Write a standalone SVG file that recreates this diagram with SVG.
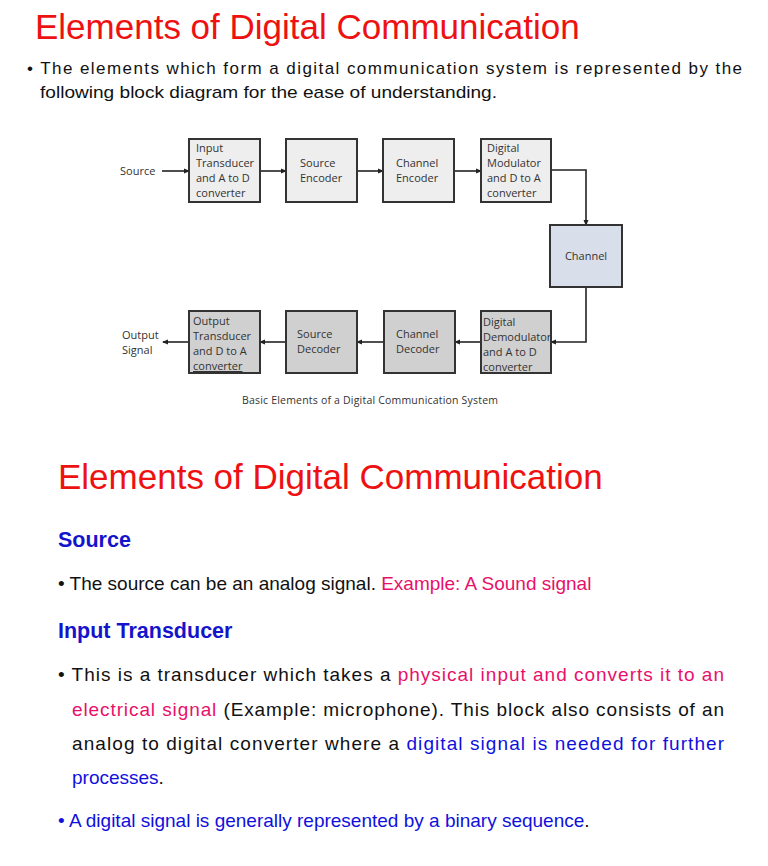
<svg xmlns="http://www.w3.org/2000/svg" width="768" height="866" viewBox="0 0 768 866">
<defs>
<marker id="ah" markerWidth="6" markerHeight="6" refX="5" refY="3" orient="auto" markerUnits="userSpaceOnUse"><path d="M0,0.5 L6,3 L0,5.5 z" fill="#222"/></marker>
<style>
.t{font-family:"Liberation Sans",Arial,sans-serif}
.b{font-family:"Open Sans","Liberation Sans",sans-serif;font-size:11px;fill:#333}
.top{fill:#eeeeee;stroke:#333;stroke-width:2}
.bot{fill:#d0d0d0;stroke:#333;stroke-width:2}
.ch{fill:#d9dfea;stroke:#333;stroke-width:2}
.c{fill:none;stroke:#222;stroke-width:1.6;marker-end:url(#ah)}
.h{font-size:35px;fill:#ee1111}
.p{font-size:17px;fill:#111}
.q{font-size:19px;fill:#111}
.r{fill:#e8106a}
.bl{fill:#1010dd}
.s{font-size:21.5px;font-weight:bold;fill:#1414cc}
</style>
</defs>
<rect width="768" height="866" fill="#fff"/>
<text class="t h" x="35" y="39">Elements of Digital Communication</text>
<text class="t p" x="27" y="74" textLength="715" lengthAdjust="spacing">• The elements which form a digital communication system is represented by the</text>
<text class="t p" x="40" y="98" textLength="457" lengthAdjust="spacingAndGlyphs">following block diagram for the ease of understanding.</text>

<g id="connectors">
<path class="c" d="M162,171 H189"/>
<path class="c" d="M260,171 H286"/>
<path class="c" d="M357,171 H383"/>
<path class="c" d="M454,171 H481"/>
<path class="c" d="M551,170 H586 V225"/>
<path class="c" d="M586,287 V342 H551"/>
<path class="c" d="M481,342 H455"/>
<path class="c" d="M384,342 H357"/>
<path class="c" d="M286,342 H260"/>
<path class="c" d="M189,342 H163"/>
</g>
<text class="b" x="120" y="175">Source</text>
<text class="b" x="122" y="339">Output</text>
<text class="b" x="122" y="354">Signal</text>

<g id="n1"><rect class="top" x="189" y="139" width="71" height="63"/><text class="b" x="196" y="152">Input</text><text class="b" x="196" y="167">Transducer</text><text class="b" x="196" y="182">and A to D</text><text class="b" x="196" y="197">converter</text></g>
<g id="n2"><rect class="top" x="286" y="139" width="71" height="63"/><text class="b" x="300" y="167">Source</text><text class="b" x="300" y="182">Encoder</text></g>
<g id="n3"><rect class="top" x="383" y="139" width="71" height="63"/><text class="b" x="396" y="167">Channel</text><text class="b" x="396" y="182">Encoder</text></g>
<g id="n4"><rect class="top" x="481" y="139" width="70" height="63"/><text class="b" x="487" y="152">Digital</text><text class="b" x="487" y="167">Modulator</text><text class="b" x="487" y="182">and D to A</text><text class="b" x="487" y="197">converter</text></g>
<g id="n5"><rect class="ch" x="550" y="225" width="72" height="62"/><text class="b" x="586" y="260" text-anchor="middle">Channel</text></g>
<g id="n6"><rect class="bot" x="481" y="311" width="70" height="62"/><text class="b" x="483" y="326">Digital</text><text class="b" x="483" y="341">Demodulator</text><text class="b" x="483" y="356">and A to D</text><text class="b" x="483" y="371" text-decoration="underline">converter</text></g>
<g id="n7"><rect class="bot" x="384" y="311" width="71" height="62"/><text class="b" x="396" y="338">Channel</text><text class="b" x="396" y="353">Decoder</text></g>
<g id="n8"><rect class="bot" x="286" y="311" width="71" height="62"/><text class="b" x="297" y="338">Source</text><text class="b" x="297" y="353">Decoder</text></g>
<g id="n9"><rect class="bot" x="189" y="311" width="71" height="62"/><text class="b" x="193" y="325">Output</text><text class="b" x="193" y="340">Transducer</text><text class="b" x="193" y="355">and D to A</text><text class="b" x="193" y="370" text-decoration="underline">converter</text></g>
<text class="b" x="370" y="404" text-anchor="middle" textLength="256" style="font-size:10.5px">Basic Elements of a Digital Communication System</text>

<text class="t h" x="58" y="489">Elements of Digital Communication</text>
<text class="t s" x="58" y="547">Source</text>
<text class="t q" x="58" y="590">• The source can be an analog signal. <tspan class="r">Example: A Sound signal</tspan></text>
<text class="t s" x="58" y="638">Input Transducer</text>
<text class="t q" x="58" y="681" textLength="666" lengthAdjust="spacing">• This is a transducer which takes a <tspan class="r">physical input and converts it to an</tspan></text>
<text class="t q" x="72" y="716" textLength="652" lengthAdjust="spacing"><tspan class="r">electrical signal</tspan> (Example: microphone). This block also consists of an</text>
<text class="t q" x="72" y="750" textLength="652" lengthAdjust="spacing">analog to digital converter where a <tspan class="bl">digital signal is needed for further</tspan></text>
<text class="t q" x="72" y="784"><tspan class="bl">processes</tspan>.</text>
<text class="t q bl" x="58" y="827">• A digital signal is generally represented by a binary sequence<tspan fill="#111">.</tspan></text>
</svg>
